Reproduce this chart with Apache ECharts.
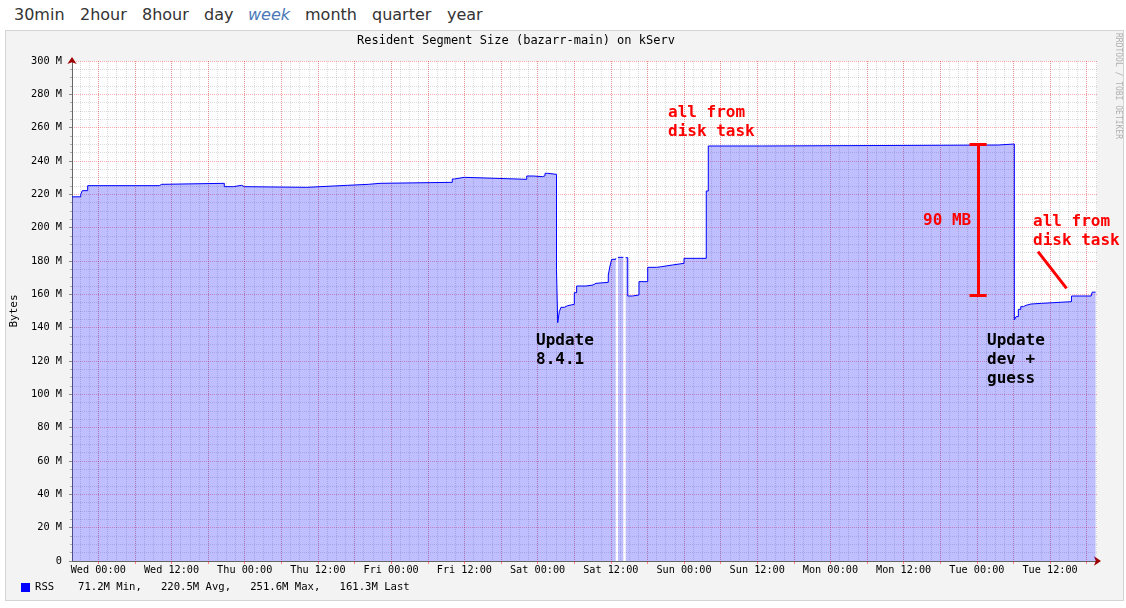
<!DOCTYPE html>
<html><head><meta charset="utf-8">
<script src="https://cdn.jsdelivr.net/npm/echarts@6/dist/echarts.min.js"></script>
<style>
html,body{margin:0;padding:0;background:#fff;width:1126px;height:608px;overflow:hidden;}
#nav{position:absolute;left:0;top:0;width:1126px;height:29px;font-family:'DejaVu Sans',sans-serif;font-size:16px;color:#333;}
#nav span{position:absolute;top:5px;white-space:nowrap;}
#nav span.cur{color:#4a78b8;font-style:italic;}
#panel{position:absolute;left:5px;top:30px;width:1117px;height:569px;background:#f3f3f3;border:1px solid #d4d4d4;}
#chart{position:absolute;left:0;top:0;width:1126px;height:608px;}
</style></head><body>
<div id="nav">
<span style="left:14px">30min</span><span style="left:80px">2hour</span><span style="left:142px">8hour</span><span style="left:204px">day</span><span class="cur" style="left:248px">week</span><span style="left:305px">month</span><span style="left:372px">quarter</span><span style="left:447px">year</span>
</div>
<div id="panel"></div>
<div id="chart"></div>
<script>
// ---- data (hours relative to Wed 00:00, values in MB; null = unknown) ----
const X_MIN = -4.31, X_MAX = 163.69;
const hours = [-4.31,-2.88,-2.62,-1.74,10.0,10.39,20.65,22.13,23.5,23.93,34.16,40.81,44.25,46.17,58.02,58.35,59.99,65.19,70.22,71.3,72.84,73.22,73.66,75.1,75.3,75.56,75.84,76.38,76.94,78.02,78.4,79.93,81.08,81.57,83.59,83.87,84.15,84.81,84.9,85.18,86.05,86.15,86.44,86.78,87.52,88.62,90.05,91.52,92.35,94.08,96.0,99.65,99.98,108.73,147.52,150.14,150.42,150.8,151.19,151.62,152.06,152.88,154.63,159.51,162.73,162.9,163.46];
const rss = [218.5,220,222.2,225.2,226,226.6,224.6,225.4,224.6,224.2,225.4,226,226.6,227.2,229.2,230.2,229.6,229,231,230.6,231.2,232.6,232,175,143,149.6,152.2,153.2,154,161,165,165.6,166.6,167.2,171.6,177,181,181.6,null,182.2,182.2,null,182,159,159.6,167.6,176.2,176.6,177.6,178.6,181.6,222,249,249.6,250.2,144.6,146.6,151,152.6,153.4,154.2,154.6,155.6,159,160,161.3,161.3];
const labelHours = [0,12,24,36,48,60,72,84,96,108,120,132,144,156];
const tickLabels = ['Wed 00:00','Wed 12:00','Thu 00:00','Thu 12:00','Fri 00:00','Fri 12:00','Sat 00:00','Sat 12:00','Sun 00:00','Sun 12:00','Mon 00:00','Mon 12:00','Tue 00:00','Tue 12:00'];
const majorHours = [0,6,12,18,24,30,36,42,48,54,60,66,72,78,84,90,96,102,108,114,120,126,132,138,144,150,156,162];
const minorHours = [];
for (let h = -3; h < X_MAX; h += 1.5) minorHours.push(h);
const statNames = ['Min','Avg','Max','Last'];
const statValues = ['71.2M','220.5M','251.6M','161.3M'];
// annotation bar (90 MB) and pointer line, in data units
const barHour = 144.2, barTop = 250.2, barBottom = 159.2, capHalf = 1.4;
const pointer = [[154.02,185.6],[158.7,163.6]];

const MONO = '"DejaVu Sans Mono", monospace';

// split into contiguous known segments (unknown data leaves a gap)
const segments = [];
let cur = [];
hours.forEach((h,i)=>{
  if (rss[i] === null) { if (cur.length) segments.push(cur); cur = []; }
  else cur.push([h, rss[i]]);
});
if (cur.length) segments.push(cur);

const seriesList = segments.map((seg, k)=>({
  name:'RSS', type:'line', xAxisIndex:1, yAxisIndex:1, step:'end', data:seg,
  showSymbol:false, symbol:'none', color:'#0000ff',
  lineStyle:{color:'#0000ff', width:1},
  areaStyle:{color:'rgba(0,0,255,0.25)', opacity:1}
}));
seriesList[0].markLine = {silent:true, symbol:'none', animation:false, label:{show:false},
  lineStyle:{color:'#ff0000', width:3, type:'solid'},
  data:[
    [{coord:[barHour,barTop]},{coord:[barHour,barBottom]}],
    [{coord:[barHour-capHalf,barTop]},{coord:[barHour+capHalf,barTop]}],
    [{coord:[barHour-capHalf,barBottom]},{coord:[barHour+capHalf,barBottom]}],
    [{coord:pointer[0]},{coord:pointer[1]}]
  ]};

const chart = echarts.init(document.getElementById('chart'), null, {renderer:'canvas'});
chart.setOption({
  animation:false,
  backgroundColor:'transparent',
  title:{text:'Resident Segment Size (bazarr-main) on kServ', left:357, top:35, padding:0,
    textStyle:{fontFamily:MONO, fontSize:12, fontWeight:'normal', color:'#000'}},
  legend:{left:21, top:582, padding:0, icon:'rect', itemWidth:9, itemHeight:9, itemGap:5,
    data:['RSS'],
    textStyle:{fontFamily:MONO, fontSize:10.6, color:'#000',
      rich:{a:{width:43, fontFamily:MONO, fontSize:10.6, color:'#000'},
            b:{fontFamily:MONO, fontSize:10.6, color:'#000'}}},
    formatter:(n)=> '{a|' + n + '}{b|' + statValues.map((v,i)=>v+' '+statNames[i]).join(',   ') + '}'},
  grid:{left:72, right:29, top:61, bottom:47, show:true, backgroundColor:'#fff', borderWidth:0},
  xAxis:[
    {type:'value', min:X_MIN, max:X_MAX, position:'bottom', offset:0,
      axisLine:{show:true, onZero:false, symbol:['none','arrow'], symbolSize:[7,7], symbolOffset:[0,4], lineStyle:{color:'#a00000', width:1}},
      axisTick:{show:false, customValues:minorHours},
      axisLabel:{show:false},
      splitLine:{show:true, lineStyle:{color:'rgba(0,0,0,0.14)', type:[1,1], width:1}}},
    {type:'value', min:X_MIN, max:X_MAX, position:'bottom', offset:0,
      axisLine:{show:true, onZero:false, lineStyle:{color:'#666', width:1}},
      axisTick:{show:true, length:3, customValues:majorHours, lineStyle:{color:'rgba(255,0,0,0.45)'}},
      axisLabel:{show:true, customValues:labelHours, margin:4, fontFamily:MONO, fontSize:10.2, color:'#000',
        formatter:(v)=>tickLabels[labelHours.indexOf(v)]},
      splitLine:{show:true, lineStyle:{color:'rgba(255,0,0,0.32)', type:[1,1], width:1}}}
  ],
  yAxis:[
    {type:'value', min:0, max:300, interval:20, position:'left', offset:0,
      axisLine:{show:true, onZero:false, symbol:['none','arrow'], symbolSize:[7,7], symbolOffset:[0,4], lineStyle:{color:'#a00000'}},
      axisTick:{show:false}, axisLabel:{show:false}, splitLine:{show:false}},
    {type:'value', min:0, max:300, interval:20, position:'left', offset:0,
      name:'Bytes', nameLocation:'middle', nameGap:52, nameRotate:90,
      nameTextStyle:{fontFamily:MONO, fontSize:11, color:'#000'},
      axisLine:{show:true, onZero:false, lineStyle:{color:'#666'}},
      axisTick:{show:true, length:3, lineStyle:{color:'#888'}},
      minorTick:{show:true, splitNumber:4, length:2, lineStyle:{color:'#aaa'}},
      axisLabel:{margin:10, fontFamily:MONO, fontSize:10.3, color:'#000',
        formatter:(v)=> v===0 ? '0' : v+' M'},
      splitLine:{show:true, lineStyle:{color:'rgba(255,0,0,0.32)', type:[1,1]}},
      minorSplitLine:{show:true, lineStyle:{color:'rgba(0,0,0,0.14)', type:[1,1]}}}
  ],
  series:seriesList,
  graphic:[
    {type:'text', x:1122, y:33, z:100, rotation:-Math.PI/2, silent:true,
      style:{text:'RRDTOOL / TOBI OETIKER', font:'8px '+MONO, fill:'#b0b0b0'}},
    {type:'text', x:668, y:103.5, z:100, silent:true, style:{text:'all from\ndisk task', font:'bold 16px '+MONO, fill:'#ff0000', lineHeight:19}},
    {type:'text', x:923, y:211.5, z:100, silent:true, style:{text:'90 MB', font:'bold 16px '+MONO, fill:'#ff0000', lineHeight:19}},
    {type:'text', x:1033, y:212.5, z:100, silent:true, style:{text:'all from\ndisk task', font:'bold 16px '+MONO, fill:'#ff0000', lineHeight:19}},
    {type:'text', x:536, y:331.5, z:100, silent:true, style:{text:'Update\n8.4.1', font:'bold 16px '+MONO, fill:'#000', lineHeight:19}},
    {type:'text', x:987, y:331.5, z:100, silent:true, style:{text:'Update\ndev +\nguess', font:'bold 16px '+MONO, fill:'#000', lineHeight:19}}
  ]
});
</script>
</body></html>
